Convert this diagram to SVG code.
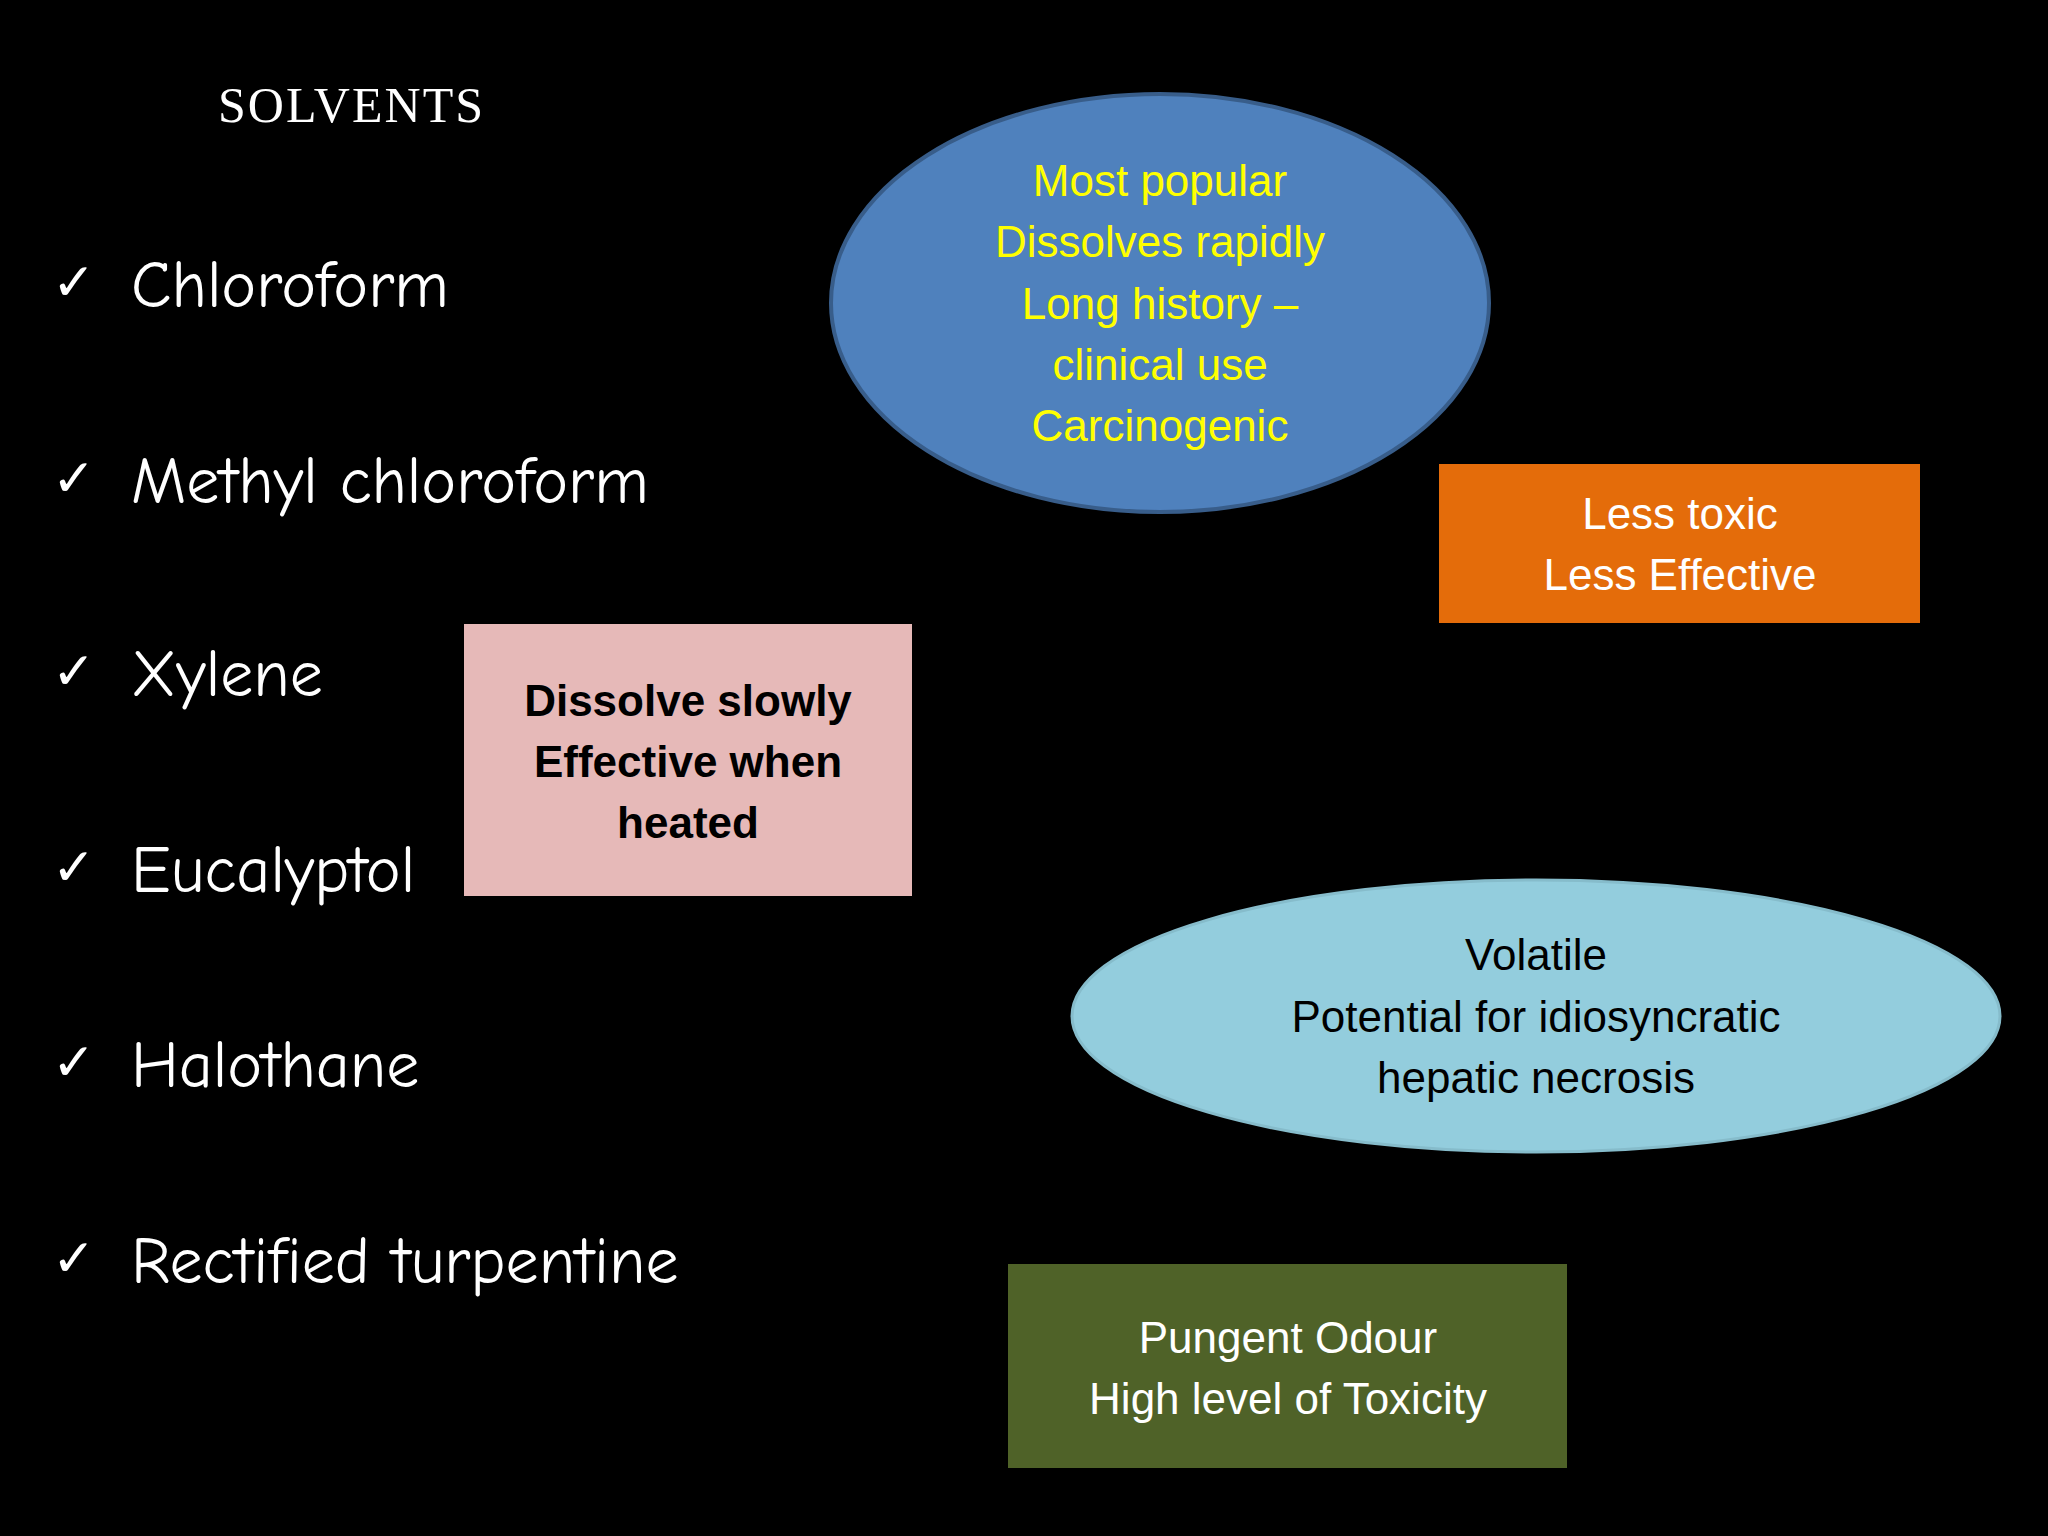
<svg xmlns="http://www.w3.org/2000/svg" width="2048" height="1536" viewBox="0 0 2048 1536">
<style>
.li{font-family:"Comic Neue","DejaVu Sans",sans-serif;font-size:66px;fill:#fff}
.ck{font-family:"DejaVu Sans",sans-serif;font-size:52px;fill:#fff}
.t{font-family:"Liberation Sans",Arial,sans-serif;font-size:44px;text-anchor:middle}
</style>
<rect width="2048" height="1536" fill="#000"/>
<text x="218" y="122" font-family="Liberation Serif,serif" font-size="50" fill="#fff" letter-spacing="2">SOLVENTS</text>
<g id="list">
<text class="ck" x="52" y="300">✓</text><text class="li" x="131" y="307">Chloroform</text>
<text class="ck" x="52" y="496">✓</text><text class="li" x="131" y="503">Methyl chloroform</text>
<text class="ck" x="52" y="689">✓</text><text class="li" x="131" y="696">Xylene</text>
<text class="ck" x="52" y="885">✓</text><text class="li" x="131" y="892">Eucalyptol</text>
<text class="ck" x="52" y="1080">✓</text><text class="li" x="131" y="1087">Halothane</text>
<text class="ck" x="52" y="1276">✓</text><text class="li" x="131" y="1283">Rectified turpentine</text>
</g>
<g id="n1">
<ellipse cx="1160" cy="303" rx="329" ry="209" fill="#4f81bd" stroke="#385d8a" stroke-width="4"/>
<text class="t" fill="#ffff00"><tspan x="1160" y="196">Most popular</tspan><tspan x="1160" y="257">Dissolves rapidly</tspan><tspan x="1160" y="319">Long history –</tspan><tspan x="1160" y="380">clinical use</tspan><tspan x="1160" y="441">Carcinogenic</tspan></text>
</g>
<g id="n2">
<rect x="1439" y="464" width="481" height="159" fill="#e46c0a"/>
<text class="t" fill="#fff"><tspan x="1680" y="529">Less toxic</tspan><tspan x="1680" y="590">Less Effective</tspan></text>
</g>
<g id="n3">
<rect x="464" y="624" width="448" height="272" fill="#e6b9b8"/>
<text class="t" fill="#000" font-weight="bold"><tspan x="688" y="716">Dissolve slowly</tspan><tspan x="688" y="777">Effective when</tspan><tspan x="688" y="838">heated</tspan></text>
</g>
<g id="n4">
<ellipse cx="1536" cy="1016" rx="464" ry="136" fill="#93cddd" stroke="#86bccb" stroke-width="3"/>
<text class="t" fill="#000"><tspan x="1536" y="970">Volatile</tspan><tspan x="1536" y="1032">Potential for idiosyncratic</tspan><tspan x="1536" y="1093">hepatic necrosis</tspan></text>
</g>
<g id="n5">
<rect x="1008" y="1264" width="559" height="204" fill="#4f6228"/>
<text class="t" fill="#fff"><tspan x="1288" y="1353">Pungent Odour</tspan><tspan x="1288" y="1414">High level of Toxicity</tspan></text>
</g>
<g id="connectors"/>
</svg>
